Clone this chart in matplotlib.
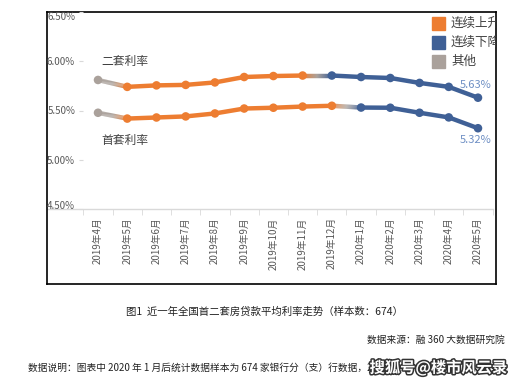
import matplotlib
matplotlib.use("Agg")
import matplotlib.pyplot as plt
import matplotlib.patheffects as pe
from matplotlib.collections import LineCollection
from matplotlib.colors import to_rgb
import numpy as np

plt.rcParams['font.family'] = ['Noto Sans CJK SC', 'DejaVu Sans']

# data
months = ["2019年4月", "2019年5月", "2019年6月", "2019年7月", "2019年8月",
          "2019年9月", "2019年10月", "2019年11月", "2019年12月", "2020年1月",
          "2020年2月", "2020年3月", "2020年4月", "2020年5月"]
second_rate = [5.81, 5.74, 5.755, 5.76, 5.785, 5.84, 5.85, 5.855, 5.855,
               5.84, 5.83, 5.78, 5.74, 5.63]
first_rate = [5.477, 5.418, 5.429, 5.44, 5.47, 5.52, 5.528, 5.54, 5.548,
              5.53, 5.528, 5.477, 5.43, 5.32]
# trend class of each point: 0 = 其他, 1 = 连续上升, 2 = 连续下降
second_trend = [0, 1, 1, 1, 1, 1, 1, 1, 2, 2, 2, 2, 2, 2]
first_trend = [0, 1, 1, 1, 1, 1, 1, 1, 1, 2, 2, 2, 2, 2]
legend_labels = ["连续上升", "连续下降", "其他"]
y_ticks = [4.5, 5.0, 5.5, 6.0, 6.5]

ORANGE = "#ED7D31"
BLUE = "#3F6096"
GREY = "#AAA19B"
trend_colors = [GREY, ORANGE, BLUE]

W, H = 532, 385
fig = plt.figure(figsize=(W / 100, H / 100), dpi=100)


def px_rect(x0, y0, x1, y1):
    return [x0 / W, 1 - y1 / H, (x1 - x0) / W, (y1 - y0) / H]


# outer framed box, data coords = pixel coords
box = fig.add_axes(px_rect(47, 12, 496, 284))
box.set_xlim(47, 496)
box.set_ylim(284, 12)
box.set_xticks([])
box.set_yticks([])
for s in box.spines.values():
    s.set_color("black")
    s.set_linewidth(1.2)
box.plot([47, 493], [209, 209], color="#D9D9D9", lw=1)

# legend squares, clipped by the box
for i, (lab, col) in enumerate(zip(legend_labels, [ORANGE, BLUE, GREY])):
    yc = 23 + i * 19.3
    box.add_patch(plt.Rectangle((432, yc - 6.5), 13, 13, color=col))
    box.text(451, yc, lab, fontsize=9, color="#404040", va="center",
             ha="left", clip_on=True)

ax = fig.add_axes(px_rect(83.4, 12, 492.6, 209))
ax.patch.set_alpha(0)
x = np.arange(len(months))
ax.set_xlim(-0.5, len(months) - 0.5)
ax.set_ylim(4.5, 6.5)
for s in ax.spines.values():
    s.set_visible(False)


def draw_series(vals, trend):
    vals = np.array(vals)
    for i in range(len(vals) - 1):
        c0 = trend_colors[trend[i]]
        c1 = trend_colors[trend[i + 1]]
        if c0 == c1:
            ax.plot(x[i:i + 2], vals[i:i + 2], color=c0, lw=3.2,
                    solid_capstyle="round", zorder=2)
        else:
            # colour fades through grey where the trend changes
            n = 30
            xs = np.linspace(x[i], x[i + 1], n + 1)
            ys = np.interp(xs, x, vals)
            segs = np.stack([np.column_stack([xs[:-1], ys[:-1]]),
                             np.column_stack([xs[1:], ys[1:]])], axis=1)
            t = (np.arange(n) + 0.5) / n
            a, g, b = (np.array(to_rgb(c)) for c in (c0, GREY, c1))
            cols = [a + (g - a) * 2 * tt if tt < 0.5 else g + (b - g) * (2 * tt - 1)
                    for tt in t]
            ax.add_collection(LineCollection(segs, colors=cols, lw=3.2,
                                             zorder=2))
    ax.scatter(x, vals, s=38, c=[trend_colors[k] for k in trend], zorder=3,
               linewidths=0)


draw_series(second_rate, second_trend)
draw_series(first_rate, first_trend)

ax.text(0.1, 6.0, "二套利率", fontsize=8.5, color="#404040", ha="left",
        va="center")
ax.text(0.1, 5.2, "首套利率", fontsize=8.5, color="#404040", ha="left",
        va="center")
ax.text(x[-1] + 0.45, second_rate[-1] + 0.13, "%.2f%%" % second_rate[-1],
        fontsize=8, color="#6E8FC4", ha="right", va="center")
ax.text(x[-1] + 0.45, first_rate[-1] - 0.12, "%.2f%%" % first_rate[-1],
        fontsize=8, color="#6E8FC4", ha="right", va="center")

ax.set_yticks(y_ticks)
ax.set_yticklabels(["%.2f%%" % v for v in y_ticks], fontsize=7,
                   color="#595959")
ylabs = ax.get_yticklabels()
ylabs[0].set_va("baseline")
ylabs[-1].set_va("top")
ax.tick_params(axis="y", length=3, color="#D9D9D9", pad=3)
ax.set_xticks(x)
ax.set_xticklabels(months, rotation=90, fontsize=7, color="#595959",
                   va="top")
ax.set_xticks(np.arange(-0.5, len(months)), minor=True)
ax.tick_params(axis="x", which="major", length=0, pad=6)
ax.tick_params(axis="x", which="minor", length=4, color="#D9D9D9")

fig.text(265 / W, 1 - 312 / H,
         "图1  近一年全国首二套房贷款平均利率走势（样本数：674）",
         fontsize=7.5, color="#222222", ha="center", va="center")
fig.text(505 / W, 1 - 340 / H, "数据来源：融 360 大数据研究院",
         fontsize=7, color="#222222", ha="right", va="center")
fig.text(28 / W, 1 - 368 / H,
         "数据说明：图表中 2020 年 1 月后统计数据样本为 674 家银行分（支）行数据，2020",
         fontsize=7, color="#222222", ha="left", va="center")
fig.text(507 / W, 1 - 368 / H, "搜狐号@楼市风云录", fontsize=11,
         color="white", ha="right", va="center", fontweight="bold",
         path_effects=[pe.withStroke(linewidth=2.2, foreground="#333333")])

fig.savefig("out.png", dpi=100)
